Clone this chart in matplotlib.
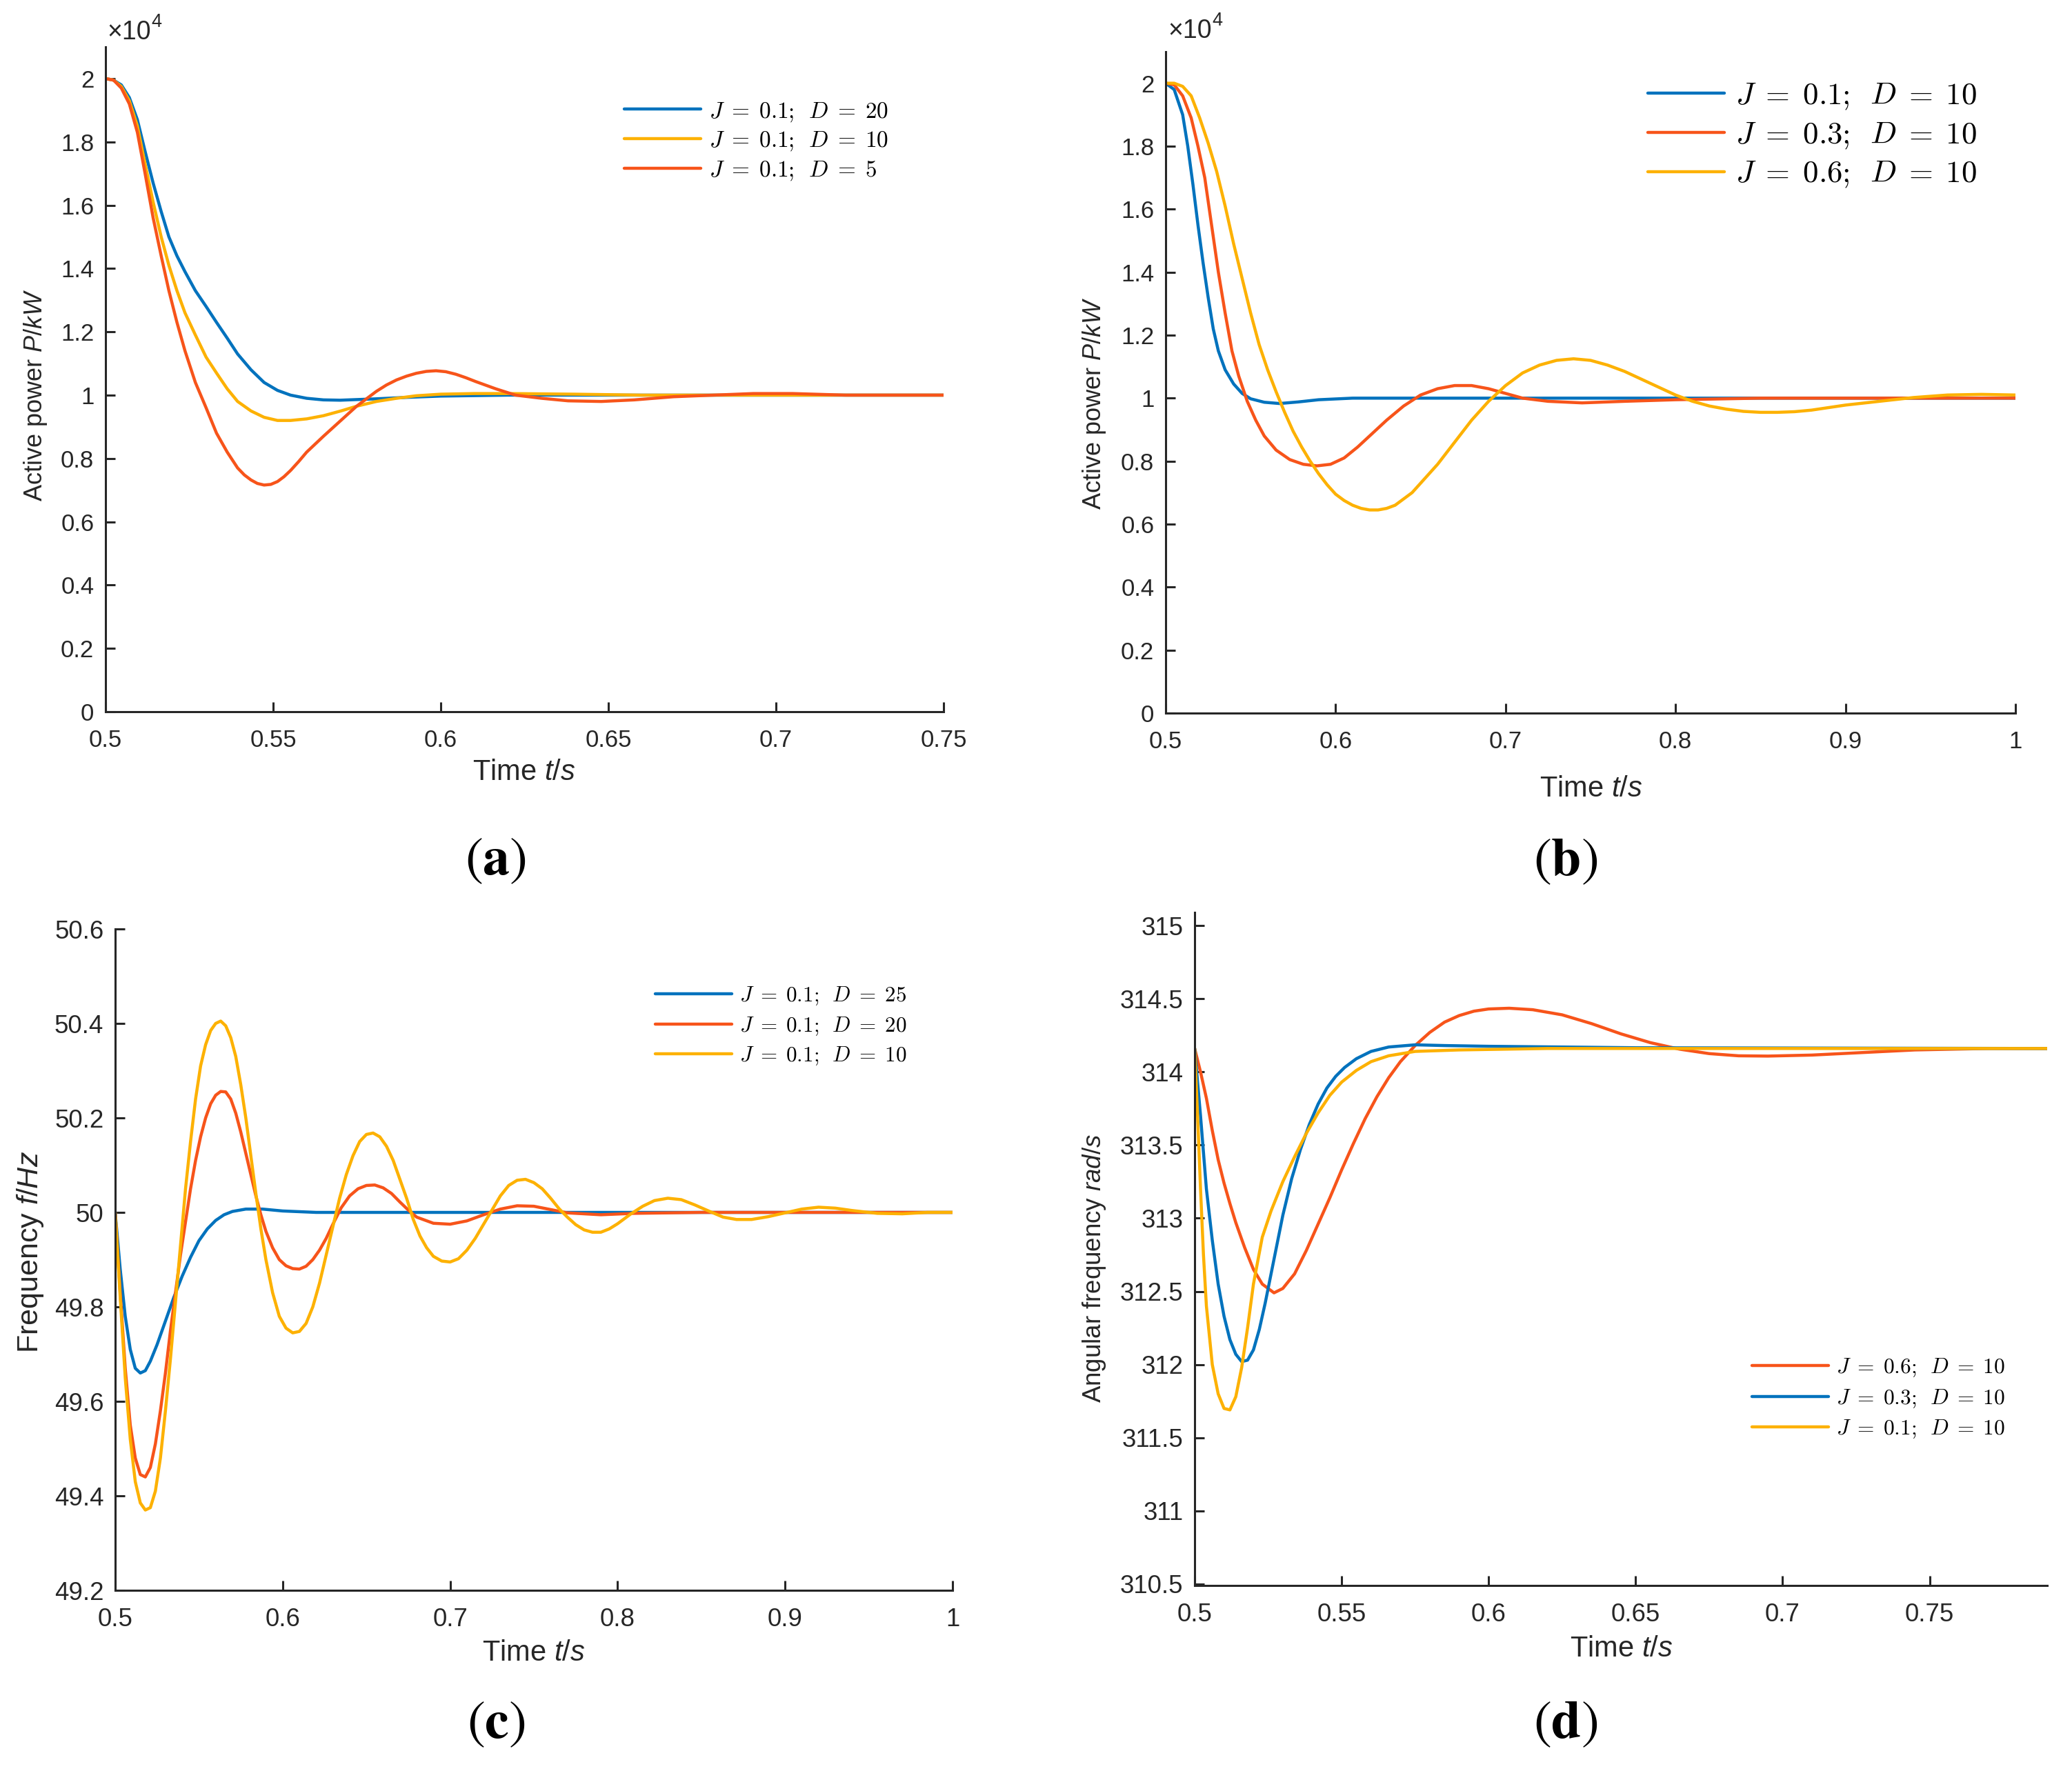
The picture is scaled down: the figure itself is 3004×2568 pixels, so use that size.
import matplotlib
matplotlib.use("Agg")
import matplotlib.pyplot as plt
from matplotlib.font_manager import FontProperties

# ---- data ----
# (a) active power, units of 1e4 kW, J = 0.1, D varies
a_t_d20 = [0.500, 0.5024, 0.5047, 0.5071, 0.5095, 0.5118, 0.5142, 0.5166, 0.5189, 0.5213,
           0.5237, 0.5268, 0.530, 0.5331, 0.5363, 0.5394, 0.5434, 0.5473, 0.5513, 0.5552,
           0.560, 0.565, 0.570, 0.580, 0.590, 0.600, 0.620, 0.650, 0.700, 0.750]
a_p_d20 = [2.00, 1.995, 1.98, 1.94, 1.87, 1.77, 1.67, 1.58, 1.50, 1.44,
           1.39, 1.33, 1.28, 1.23, 1.18, 1.13, 1.08, 1.04, 1.015, 1.00,
           0.99, 0.985, 0.984, 0.988, 0.993, 0.997, 1.00, 1.00, 1.00, 1.00]
a_t_d10 = [0.500, 0.5024, 0.5047, 0.5071, 0.5095, 0.5118, 0.5142, 0.5166, 0.5189, 0.5213,
           0.5237, 0.5268, 0.530, 0.5331, 0.5363, 0.5394, 0.5434, 0.5473, 0.5513, 0.5552,
           0.560, 0.565, 0.5702, 0.5749, 0.5808, 0.5868, 0.5927, 0.600, 0.610, 0.620,
           0.640, 0.660, 0.750]
a_p_d10 = [2.00, 1.995, 1.975, 1.93, 1.85, 1.73, 1.61, 1.50, 1.41, 1.33,
           1.26, 1.19, 1.12, 1.07, 1.02, 0.98, 0.95, 0.93, 0.92, 0.92,
           0.925, 0.935, 0.95, 0.965, 0.98, 0.99, 0.998, 1.003, 1.005, 1.005,
           1.003, 1.00, 1.00]
a_t_d5 = [0.500, 0.5024, 0.5047, 0.5071, 0.5095, 0.5118, 0.5142, 0.5166, 0.5189, 0.5213,
          0.5237, 0.5268, 0.530, 0.5331, 0.5363, 0.5394, 0.5414, 0.5434, 0.5453, 0.5473,
          0.5493, 0.5513, 0.5532, 0.5552, 0.5576, 0.560, 0.565, 0.5702, 0.5749, 0.5808,
          0.5838, 0.5868, 0.5898, 0.5927, 0.5957, 0.5986, 0.6015, 0.6045, 0.6075, 0.6104,
          0.6164, 0.6223, 0.6301, 0.638, 0.6479, 0.6577, 0.6695, 0.6814, 0.6932, 0.705,
          0.7208, 0.750]
a_p_d5 = [2.00, 1.995, 1.97, 1.92, 1.83, 1.70, 1.56, 1.44, 1.33, 1.23,
          1.14, 1.04, 0.96, 0.88, 0.82, 0.77, 0.748, 0.732, 0.721, 0.716,
          0.718, 0.727, 0.742, 0.762, 0.79, 0.82, 0.87, 0.92, 0.965, 1.012,
          1.032, 1.048, 1.06, 1.069, 1.075, 1.077, 1.074, 1.066, 1.055, 1.043,
          1.02, 1.00, 0.99, 0.982, 0.98, 0.985, 0.995, 1.00, 1.005, 1.005,
          1.00, 1.00]

# (b) active power, units of 1e4 kW, D = 10, J varies
b_t_j01 = [0.500, 0.505, 0.510, 0.513, 0.516, 0.519, 0.522, 0.525, 0.528, 0.531,
           0.535, 0.540, 0.545, 0.550, 0.558, 0.567, 0.578, 0.590, 0.610, 1.000]
b_p_j01 = [2.00, 1.98, 1.90, 1.80, 1.68, 1.55, 1.43, 1.32, 1.22, 1.15,
           1.09, 1.045, 1.015, 0.998, 0.987, 0.983, 0.988, 0.995, 1.00, 1.00]
b_t_j03 = [0.500, 0.505, 0.510, 0.515, 0.519, 0.523, 0.527, 0.531, 0.535, 0.539,
           0.543, 0.548, 0.553, 0.558, 0.565, 0.573, 0.581, 0.589, 0.597, 0.605,
           0.613, 0.621, 0.630, 0.640, 0.650, 0.660, 0.670, 0.680, 0.690, 0.700,
           0.710, 0.725, 0.745, 0.770, 0.800, 0.850, 1.000]
b_p_j03 = [2.00, 1.995, 1.96, 1.89, 1.80, 1.70, 1.55, 1.40, 1.27, 1.15,
           1.07, 0.99, 0.93, 0.88, 0.835, 0.805, 0.79, 0.785, 0.79, 0.81,
           0.845, 0.885, 0.93, 0.975, 1.01, 1.03, 1.04, 1.04, 1.03, 1.015,
           1.00, 0.99, 0.985, 0.99, 0.995, 1.00, 1.00]
b_t_j06 = [0.500, 0.505, 0.510, 0.515, 0.520, 0.525, 0.530, 0.535, 0.540, 0.545,
           0.550, 0.555, 0.560, 0.565, 0.570, 0.575, 0.580, 0.585, 0.590, 0.595,
           0.600, 0.605, 0.610, 0.615, 0.620, 0.625, 0.630, 0.635, 0.640, 0.645,
           0.650, 0.655, 0.660, 0.665, 0.670, 0.675, 0.680, 0.690, 0.700, 0.710,
           0.720, 0.730, 0.740, 0.750, 0.760, 0.770, 0.780, 0.790, 0.800, 0.810,
           0.820, 0.830, 0.840, 0.850, 0.860, 0.870, 0.880, 0.890, 0.900, 0.920,
           0.940, 0.960, 0.980, 1.000]
b_p_j06 = [2.00, 2.00, 1.99, 1.96, 1.89, 1.81, 1.72, 1.61, 1.49, 1.38,
           1.27, 1.17, 1.09, 1.02, 0.955, 0.895, 0.845, 0.80, 0.76, 0.725,
           0.695, 0.675, 0.66, 0.65, 0.645, 0.645, 0.65, 0.66, 0.68, 0.70,
           0.73, 0.76, 0.79, 0.825, 0.86, 0.895, 0.93, 0.99, 1.04, 1.08,
           1.105, 1.12, 1.125, 1.12, 1.105, 1.085, 1.06, 1.035, 1.01, 0.99,
           0.975, 0.965, 0.958, 0.955, 0.955, 0.957, 0.962, 0.97, 0.978, 0.99,
           1.002, 1.01, 1.012, 1.01]

# (c) frequency in Hz, J = 0.1, D varies
c_t_d25 = [0.500, 0.503, 0.506, 0.509, 0.512, 0.515, 0.518, 0.521, 0.525, 0.530,
           0.535, 0.540, 0.545, 0.550, 0.555, 0.560, 0.565, 0.570, 0.578, 0.588,
           0.600, 0.620, 1.000]
c_f_d25 = [50.00, 49.88, 49.78, 49.71, 49.67, 49.66, 49.665, 49.685, 49.72, 49.77,
           49.82, 49.865, 49.905, 49.94, 49.965, 49.983, 49.995, 50.002, 50.007, 50.007,
           50.003, 50.00, 50.00]
c_t_d20 = [0.500, 0.503, 0.506, 0.509, 0.512, 0.515, 0.518, 0.521, 0.524, 0.527,
           0.530, 0.533, 0.536, 0.539, 0.542, 0.545, 0.548, 0.551, 0.554, 0.557,
           0.560, 0.563, 0.566, 0.569, 0.572, 0.575, 0.578, 0.581, 0.584, 0.587,
           0.590, 0.594, 0.598, 0.602, 0.606, 0.610, 0.614, 0.618, 0.622, 0.626,
           0.630, 0.635, 0.640, 0.645, 0.650, 0.655, 0.660, 0.665, 0.670, 0.675,
           0.680, 0.690, 0.700, 0.710, 0.720, 0.730, 0.740, 0.750, 0.760, 0.770,
           0.790, 0.810, 0.850, 1.000]
c_f_d20 = [50.00, 49.83, 49.67, 49.55, 49.48, 49.445, 49.44, 49.46, 49.51, 49.58,
           49.66, 49.75, 49.83, 49.91, 49.98, 50.05, 50.11, 50.16, 50.20, 50.23,
           50.248, 50.256, 50.255, 50.24, 50.21, 50.17, 50.125, 50.08, 50.035, 49.995,
           49.96, 49.925, 49.90, 49.887, 49.881, 49.88, 49.886, 49.90, 49.92, 49.945,
           49.975, 50.01, 50.035, 50.05, 50.057, 50.058, 50.052, 50.04, 50.022, 50.005,
           49.99, 49.977, 49.975, 49.982, 49.995, 50.007, 50.014, 50.013, 50.006, 49.999,
           49.995, 49.998, 50.00, 50.00]
c_t_d10 = [0.500, 0.503, 0.506, 0.509, 0.512, 0.515, 0.518, 0.521, 0.524, 0.527,
           0.530, 0.533, 0.536, 0.539, 0.542, 0.545, 0.548, 0.551, 0.554, 0.557,
           0.560, 0.563, 0.566, 0.569, 0.572, 0.575, 0.578, 0.581, 0.584, 0.587,
           0.590, 0.594, 0.598, 0.602, 0.606, 0.610, 0.614, 0.618, 0.622, 0.626,
           0.630, 0.634, 0.638, 0.642, 0.646, 0.650, 0.654, 0.658, 0.662, 0.666,
           0.670, 0.674, 0.678, 0.682, 0.686, 0.690, 0.695, 0.700, 0.705, 0.710,
           0.715, 0.720, 0.725, 0.730, 0.735, 0.740, 0.745, 0.750, 0.755, 0.760,
           0.765, 0.770, 0.775, 0.780, 0.785, 0.790, 0.795, 0.800, 0.808, 0.815,
           0.822, 0.830, 0.838, 0.846, 0.855, 0.863, 0.871, 0.880, 0.890, 0.900,
           0.910, 0.920, 0.930, 0.940, 0.955, 0.970, 0.985, 1.000]
c_f_d10 = [50.00, 49.82, 49.65, 49.52, 49.43, 49.385, 49.37, 49.375, 49.41, 49.48,
           49.58, 49.69, 49.81, 49.93, 50.05, 50.15, 50.24, 50.31, 50.355, 50.385,
           50.40, 50.405, 50.395, 50.37, 50.33, 50.27, 50.20, 50.12, 50.04, 49.965,
           49.90, 49.83, 49.78, 49.755, 49.745, 49.748, 49.765, 49.80, 49.85, 49.91,
           49.97, 50.03, 50.08, 50.12, 50.15, 50.165, 50.168, 50.16, 50.14, 50.11,
           50.07, 50.03, 49.985, 49.95, 49.925, 49.907, 49.897, 49.895, 49.902, 49.92,
           49.945, 49.975, 50.005, 50.035, 50.057, 50.068, 50.07, 50.063, 50.05, 50.03,
           50.008, 49.99, 49.974, 49.963, 49.958, 49.958, 49.965, 49.976, 49.997, 50.013,
           50.025, 50.03, 50.027, 50.016, 50.002, 49.99, 49.985, 49.985, 49.991, 49.999,
           50.007, 50.011, 50.009, 50.004, 49.998, 49.997, 50.00, 50.00]

# (d) angular frequency in rad/s, D = 10, J varies
d_t_j06 = [0.500, 0.502, 0.504, 0.506, 0.508, 0.510, 0.512, 0.514, 0.517, 0.520,
           0.523, 0.527, 0.530, 0.534, 0.538, 0.542, 0.546, 0.550, 0.554, 0.558,
           0.562, 0.566, 0.570, 0.575, 0.580, 0.585, 0.590, 0.595, 0.600, 0.607,
           0.615, 0.625, 0.635, 0.645, 0.655, 0.665, 0.675, 0.685, 0.695, 0.710,
           0.725, 0.745, 0.770, 0.790]
d_w_j06 = [314.16, 314.00, 313.82, 313.60, 313.40, 313.24, 313.10, 312.97, 312.80, 312.65,
           312.55, 312.49, 312.52, 312.62, 312.78, 312.96, 313.14, 313.33, 313.51, 313.68,
           313.83, 313.96, 314.07, 314.18, 314.27, 314.34, 314.385, 314.415, 314.43, 314.435,
           314.425, 314.39, 314.33, 314.26, 314.20, 314.155, 314.125, 314.11, 314.108, 314.115,
           314.13, 314.15, 314.16, 314.16]
d_t_j03 = [0.500, 0.502, 0.504, 0.506, 0.508, 0.510, 0.512, 0.514, 0.516, 0.518,
           0.520, 0.522, 0.524, 0.526, 0.528, 0.530, 0.533, 0.536, 0.539, 0.542,
           0.545, 0.548, 0.551, 0.555, 0.560, 0.566, 0.575, 0.585, 0.600, 0.650,
           0.790]
d_w_j03 = [314.16, 313.70, 313.20, 312.85, 312.55, 312.33, 312.17, 312.07, 312.02, 312.03,
           312.10, 312.24, 312.42, 312.62, 312.82, 313.02, 313.27, 313.47, 313.64, 313.78,
           313.89, 313.97, 314.03, 314.09, 314.14, 314.17, 314.185, 314.18, 314.175, 314.165,
           314.16]
d_t_j01 = [0.500, 0.501, 0.502, 0.503, 0.504, 0.506, 0.508, 0.510, 0.512, 0.514,
           0.516, 0.518, 0.520, 0.523, 0.526, 0.530, 0.534, 0.538, 0.542, 0.546,
           0.550, 0.555, 0.560, 0.566, 0.575, 0.590, 0.620, 0.790]
d_w_j01 = [314.16, 313.70, 313.20, 312.75, 312.40, 312.00, 311.80, 311.70, 311.69, 311.78,
           311.98, 312.25, 312.55, 312.87, 313.05, 313.25, 313.42, 313.58, 313.72, 313.84,
           313.93, 314.01, 314.07, 314.11, 314.14, 314.15, 314.16, 314.16]

a_ticks_y = [0, 0.2, 0.4, 0.6, 0.8, 1, 1.2, 1.4, 1.6, 1.8, 2]
a_ticks_x = [0.5, 0.55, 0.6, 0.65, 0.7, 0.75]
b_ticks_x = [0.5, 0.6, 0.7, 0.8, 0.9, 1]
c_ticks_y = [49.2, 49.4, 49.6, 49.8, 50, 50.2, 50.4, 50.6]
d_ticks_y = [310.5, 311, 311.5, 312, 312.5, 313, 313.5, 314, 314.5, 315]

BLUE = '#0072BD'
RED = '#F7541A'
YELLOW = '#FDB100'
AXC = '#262626'

plt.rcParams['font.family'] = ['Liberation Sans', 'DejaVu Sans']
plt.rcParams['mathtext.fontset'] = 'custom'
plt.rcParams['mathtext.rm'] = 'Liberation Sans'
plt.rcParams['mathtext.it'] = 'Liberation Sans:italic'
plt.rcParams['mathtext.bf'] = 'Liberation Sans:bold'

W, H = 3004, 2568
fig = plt.figure(figsize=(W / 200, H / 200), dpi=200)


def px_axes(left, top, right, bottom):
    return fig.add_axes([left / W, 1 - bottom / H, (right - left) / W, (bottom - top) / H])


def style(ax, tick_size):
    for s in ('top', 'right'):
        ax.spines[s].set_visible(False)
    for s in ('left', 'bottom'):
        ax.spines[s].set_color(AXC)
        ax.spines[s].set_linewidth(1.1)
    ax.tick_params(direction='in', length=5, width=1.1, colors=AXC,
                   labelsize=tick_size, labelcolor=AXC)
    ax.tick_params(axis='x', pad=9)
    ax.tick_params(axis='y', pad=6)


def fmt(v):
    return '%g' % v


def leg_label(j, d):
    return r'$J\;=\;%s;\,\ D\;=\;%s$' % (j, d)


def add_legend(ax, handles, labels, x, y, size, spacing):
    # handle is about 40 pt long in every panel
    prop = FontProperties(size=size, math_fontfamily='cm')
    ax.legend(handles, labels, loc='center left', bbox_to_anchor=(x / W, 1 - y / H),
              bbox_transform=fig.transFigure, frameon=False, prop=prop,
              borderpad=0, borderaxespad=0, handlelength=40 / size,
              handletextpad=0.35, labelspacing=spacing)


def xlabel(x, y, text, size):
    fig.text(x / W, 1 - y / H, text, ha='center', va='center', fontsize=size, color=AXC)


def ylabel(x, y, text, size):
    fig.text(x / W, 1 - y / H, text, ha='center', va='center', rotation=90,
             fontsize=size, color=AXC)


def panel(x, y, letter):
    fig.text(x / W, 1 - y / H, r'$(\mathbf{%s})$' % letter, ha='center', va='center',
             fontsize=28, math_fontfamily='stix')


def times10(x, y, size):
    fig.text(x / W, 1 - y / H, '×10', ha='left', va='center', fontsize=size, color=AXC)
    fig.text((x + 64) / W, 1 - (y - 15) / H, '4', ha='left', va='center',
             fontsize=size * 0.72, color=AXC)


def curve(ax, t, v, color):
    line, = ax.plot(t, v, color=color, lw=1.6, solid_joinstyle='round',
                    solid_capstyle='round')
    return line


# (a)
ax = px_axes(153, 68, 1368, 1032)
l1 = curve(ax, a_t_d20, a_p_d20, BLUE)
l2 = curve(ax, a_t_d10, a_p_d10, YELLOW)
l3 = curve(ax, a_t_d5, a_p_d5, RED)
ax.set_xlim(0.5, 0.75)
ax.set_ylim(0, 2.1)
ax.set_xticks(a_ticks_x, [fmt(v) for v in a_ticks_x])
ax.set_yticks(a_ticks_y, [fmt(v) for v in a_ticks_y])
style(ax, 12.5)
add_legend(ax, [l1, l2, l3], [leg_label('0.1', 20), leg_label('0.1', 10), leg_label('0.1', 5)],
           905, 205, 12, 0.3)
times10(155, 47, 13.5)
xlabel(760, 1120, r'Time $\mathit{t/s}$', 15)
ylabel(52, 573, r'Active power $\mathit{P/kW}$', 13)
panel(718, 1248, 'a')

# (b)
ax = px_axes(1690, 75, 2922, 1034)
l1 = curve(ax, b_t_j01, b_p_j01, BLUE)
l2 = curve(ax, b_t_j03, b_p_j03, RED)
l3 = curve(ax, b_t_j06, b_p_j06, YELLOW)
ax.set_xlim(0.5, 1.0)
ax.set_ylim(0, 2.1)
ax.set_xticks(b_ticks_x, [fmt(v) for v in b_ticks_x])
ax.set_yticks(a_ticks_y, [fmt(v) for v in a_ticks_y])
style(ax, 12.5)
add_legend(ax, [l1, l2, l3], [leg_label('0.1', 10), leg_label('0.3', 10), leg_label('0.6', 10)],
           2389, 197, 16.2, 0.3)
times10(1693, 45, 13.5)
xlabel(2307, 1144, r'Time $\mathit{t/s}$', 15)
ylabel(1586, 585, r'Active power $\mathit{P/kW}$', 13)
panel(2270, 1249, 'b')

# (c)
ax = px_axes(167, 1347, 1381, 2306)
l1 = curve(ax, c_t_d25, c_f_d25, BLUE)
l2 = curve(ax, c_t_d20, c_f_d20, RED)
l3 = curve(ax, c_t_d10, c_f_d10, YELLOW)
ax.set_xlim(0.5, 1.0)
ax.set_ylim(49.2, 50.6)
ax.set_xticks(b_ticks_x, [fmt(v) for v in b_ticks_x])
ax.set_yticks(c_ticks_y, [fmt(v) for v in c_ticks_y])
style(ax, 13.2)
add_legend(ax, [l1, l2, l3], [leg_label('0.1', 25), leg_label('0.1', 20), leg_label('0.1', 10)],
           950, 1488, 11.2, 0.4)
xlabel(774, 2397, r'Time $\mathit{t/s}$', 15)
ylabel(44, 1816, r'Frequency $\mathit{f/Hz}$', 15.5)
panel(719, 2500, 'c')

# (d)
ax = px_axes(1732, 1323, 2968, 2299)
l1 = curve(ax, d_t_j06, d_w_j06, RED)
l2 = curve(ax, d_t_j03, d_w_j03, BLUE)
l3 = curve(ax, d_t_j01, d_w_j01, YELLOW)
ax.set_xlim(0.5, 0.79)
ax.set_ylim(310.49, 315.09)
ax.set_xticks(a_ticks_x, [fmt(v) for v in a_ticks_x])
ax.set_yticks(d_ticks_y, [fmt(v) for v in d_ticks_y])
style(ax, 13.2)
add_legend(ax, [l1, l2, l3], [leg_label('0.6', 10), leg_label('0.3', 10), leg_label('0.1', 10)],
           2540, 2028, 11.3, 0.42)
xlabel(2351, 2391, r'Time $\mathit{t/s}$', 15)
ylabel(1586, 1839, r'Angular frequency $\mathit{rad/s}$', 13.2)
panel(2270, 2500, 'd')

fig.savefig('out.png', dpi=200)
